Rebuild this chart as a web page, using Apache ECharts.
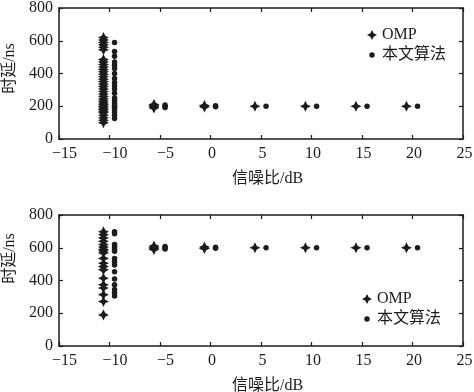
<!DOCTYPE html>
<html><head><meta charset="utf-8">
<script src="https://cdn.jsdelivr.net/npm/echarts@6/dist/echarts.min.js"></script>
<style>html,body{margin:0;padding:0;background:#fff}#c{width:474px;height:392px}</style>
</head><body><div id="c"></div><script>
const xTicks = [-15, -10, -5, 0, 5, 10, 15, 20, 25];
const yTicks = [0, 200, 400, 600, 800];
const seriesNames = ['OMP', '本文算法'];
const xAxisName = '信噪比/dB';
const yAxisName = '时延/ns';
const ompX = [-10.6, -5.6, -0.6, 4.4, 9.4, 14.4, 19.4];
const propX = [-9.5, -4.5, 0.5, 5.5, 10.5, 15.5, 20.5];
const ompDelayTop = [
  [620, 605, 590, 575, 560, 545, 485, 470, 455, 440, 425, 410, 395, 380, 365, 350, 335, 320, 305, 290, 275, 260, 245, 232, 220, 210, 200, 190, 180, 170, 160, 145, 130, 115, 100],
  [190, 197, 203, 210],
  [196, 204],
  [200], [200], [200], [200]
];
const propDelayTop = [
  [590, 535, 505, 470, 450, 430, 400, 370, 345, 325, 305, 280, 250, 235, 220, 205, 195, 185, 165, 145, 125],
  [192, 200, 208],
  [197, 203],
  [200], [200], [200], [200]
];
const ompDelayBottom = [
  [698, 680, 660, 640, 620, 605, 590, 580, 568, 535, 505, 485, 465, 414, 374, 354, 313, 272, 190],
  [590, 597, 603, 610],
  [596, 604],
  [600], [600], [600], [600]
];
const propDelayBottom = [
  [698, 685, 620, 605, 590, 578, 535, 515, 495, 454, 409, 374, 345, 325, 305],
  [592, 600, 608],
  [597, 603],
  [600], [600], [600], [600]
];

const INK = '#1c1c1c';
const NUM_FONT = '"Liberation Serif"';
const TXT_FONT = '"Liberation Serif", "Noto Sans CJK SC"';
const STAR = 'path://M0,-10 L3.3,-3.3 L10,0 L3.3,3.3 L0,10 L-3.3,3.3 L-10,0 L-3.3,-3.3 Z';
const DOT_ICON = 'path://M-10,-10 L-9.99,-10 L-10,-9.99 Z M10,10 L9.99,10 L10,9.99 Z M0,-5.5 A5.5,5.5 0 1,1 0,5.5 A5.5,5.5 0 1,1 0,-5.5 Z';

function toPoints(xs, cols) {
  const pts = [];
  cols.forEach((col, i) => col.forEach(v => pts.push([xs[i], v])));
  return pts;
}

const grids = [
  { left: 59, right: 11, top: 8, height: 131, containLabel: false, outerBoundsMode: 'none' },
  { left: 59, right: 11, top: 215, height: 131, containLabel: false, outerBoundsMode: 'none' }
];

const xAxes = [], yAxes = [];
grids.forEach((g, gi) => {
  const common = {
    type: 'value', gridIndex: gi, min: xTicks[0], max: xTicks[xTicks.length - 1], interval: 5,
    splitLine: { show: false },
    axisLine: { show: true, onZero: false, lineStyle: { color: INK, width: 1.5 } },
    axisTick: { show: true, inside: true, length: 4, lineStyle: { color: INK, width: 1.2 } }
  };
  xAxes.push(Object.assign({}, common, {
    position: 'bottom',
    name: xAxisName, nameLocation: 'middle', nameGap: 32,
    nameTextStyle: { fontFamily: TXT_FONT, fontSize: 16, color: INK, padding: [0, 0, 0, 13] },
    axisLabel: {
      margin: 7,
      formatter: v => v < 0 ? '{n|−' + Math.abs(v) + '}' : '{p|' + v + '}',
      rich: {
        n: { fontFamily: NUM_FONT, fontSize: 16, color: INK, padding: [0, 0, 0, 11] },
        p: { fontFamily: NUM_FONT, fontSize: 16, color: INK, padding: [0, 0, 0, 3] }
      }
    }
  }));
  xAxes.push(Object.assign({}, common, { position: 'top', axisLabel: { show: false } }));
  const ycommon = {
    type: 'value', gridIndex: gi, min: yTicks[0], max: yTicks[yTicks.length - 1], interval: 200,
    splitLine: { show: false },
    axisLine: { show: true, onZero: false, lineStyle: { color: INK, width: 1.5 } },
    axisTick: { show: true, inside: true, length: 4, lineStyle: { color: INK, width: 1.2 } }
  };
  yAxes.push(Object.assign({}, ycommon, {
    position: 'left',
    name: yAxisName, nameLocation: 'middle', nameGap: 38,
    nameTextStyle: { fontFamily: TXT_FONT, fontSize: 16, color: INK, padding: gi === 0 ? [0, 0, 0, 10] : [0, 0, 0, 44] },
    axisLabel: { margin: 6, fontFamily: NUM_FONT, fontSize: 16, color: INK }
  }));
  yAxes.push(Object.assign({}, ycommon, { position: 'right', axisLabel: { show: false } }));
});

const dataSets = [
  [toPoints(ompX, ompDelayTop), toPoints(propX, propDelayTop)],
  [toPoints(ompX, ompDelayBottom), toPoints(propX, propDelayBottom)]
];

const series = [];
dataSets.forEach((pair, gi) => {
  series.push({
    name: seriesNames[0], type: 'scatter', xAxisIndex: gi * 2, yAxisIndex: gi * 2,
    symbol: STAR, symbolSize: 11, itemStyle: { color: INK, opacity: 1 }, data: pair[0]
  });
  series.push({
    name: seriesNames[1], type: 'scatter', xAxisIndex: gi * 2, yAxisIndex: gi * 2,
    symbol: 'circle', symbolSize: 5.5, itemStyle: { color: INK, opacity: 1 }, data: pair[1]
  });
});

const legendCommon = {
  orient: 'vertical', itemWidth: 10, itemHeight: 10, itemGap: 4,
  textStyle: { fontFamily: TXT_FONT, fontSize: 16, color: INK },
  data: [
    { name: seriesNames[0], icon: STAR },
    { name: seriesNames[1], icon: DOT_ICON, itemStyle: { color: INK } }
  ],
  selectedMode: false
};

const chart = echarts.init(document.getElementById('c'), null, { renderer: 'canvas' });
chart.setOption({
  animation: false,
  backgroundColor: '#fff',
  grid: grids,
  xAxis: xAxes,
  yAxis: yAxes,
  legend: [
    Object.assign({}, legendCommon, { left: 362, top: 22 }),
    Object.assign({}, legendCommon, { left: 357, top: 286 })
  ],
  series: series
});
</script></body></html>
